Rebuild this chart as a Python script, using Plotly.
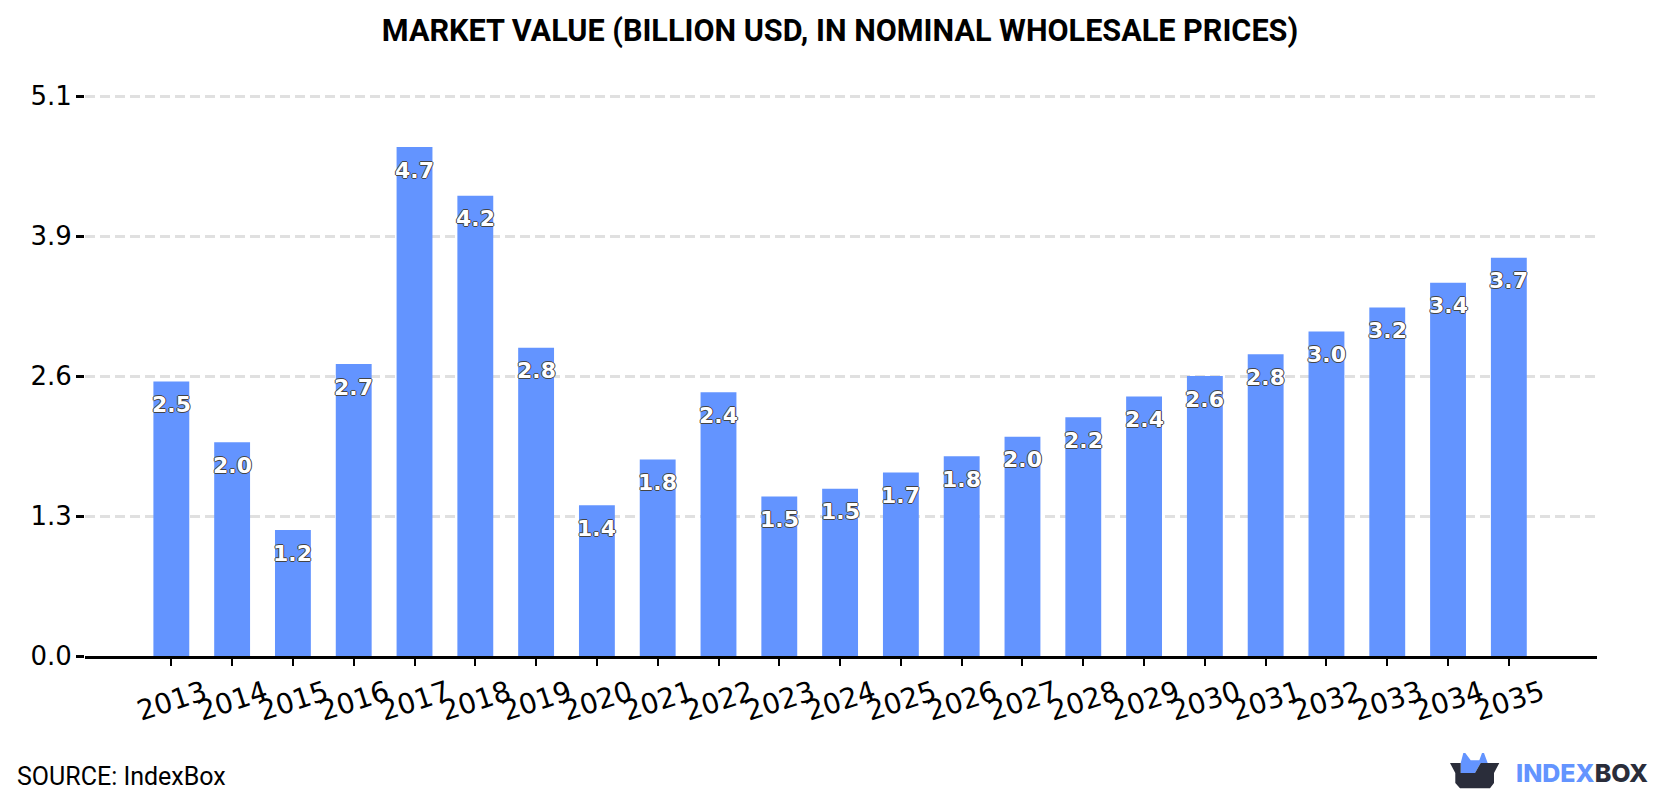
import plotly.graph_objects as go

# Market value series, billion USD
years = [str(y) for y in range(2013, 2036)]
market_value = [2.53, 1.97, 1.16, 2.69, 4.69, 4.24, 2.84, 1.39, 1.81, 2.43, 1.47, 1.54,
                1.69, 1.84, 2.02, 2.20, 2.39, 2.58, 2.78, 2.99, 3.21, 3.44, 3.67]
y_tick_values = [0, 1.29, 2.58, 3.87, 5.16]
y_tick_labels = ["0.0", "1.3", "2.6", "3.9", "5.1"]

WIDTH, HEIGHT = 1680, 800
BAR_BLUE = "#6394FF"
INK = "#2A2D3A"
OUTLINE = "#444"

# The value axis runs a little past its top tick so the top gridline is kept
Y_MAX = 5.19
BASELINE_PX = 656
PX_PER_UNIT = 560 / 5.16


def px(x):
    return x / WIDTH


def py(y):
    return 1 - y / HEIGHT


def logo_path(points):
    """Closed SVG path in paper coordinates from pixel points."""
    return "M" + " L".join(f"{px(x)},{py(y)}" for x, y in points) + " Z"


# Box-shaped brand mark next to the wordmark
mark_blue = [(1460.7, 773), (1460.7, 763), (1462, 758), (1463.3, 753), (1465.3, 753), (1470.7, 760.3),
             (1479.3, 760.3), (1482, 753), (1484, 753), (1487.7, 763), (1480.7, 763), (1475, 773)]
mark_dark = [(1450, 763), (1460.7, 763), (1460.7, 773), (1475, 773), (1480.7, 763), (1499.3, 763),
             (1494, 773), (1494, 783), (1490, 788.3), (1460, 788.3), (1455.3, 783), (1455.3, 773)]

fig = go.Figure(
    go.Bar(x=years, y=market_value, width=0.59, marker=dict(color=BAR_BLUE, line=dict(width=0)))
)

label_shadow = (f"-1px 0 0 {OUTLINE}, 1px 0 0 {OUTLINE}, 0 -1px 0 {OUTLINE}, 0 1px 0 {OUTLINE}")
annotations = [
    dict(x=i, y=value, xref="x", yref="y", text=f"{value:.1f}", showarrow=False,
         yanchor="middle", yshift=-23,
         font=dict(family="DejaVu Sans", size=22, weight="bold", color="white", shadow=label_shadow))
    for i, value in enumerate(market_value)
]
annotations += [
    dict(x=px(15), y=py(776), xref="paper", yref="paper", xanchor="left", yanchor="middle",
         text="SOURCE: IndexBox", showarrow=False,
         font=dict(family="Roboto", size=25, color="black")),
    dict(x=px(1514), y=py(773), xref="paper", yref="paper", xanchor="left", yanchor="middle",
         text=f'<span style="color:{BAR_BLUE}">INDEX</span><span style="color:{INK}">BOX</span>',
         showarrow=False, font=dict(family="Inter", size=25, weight=800)),
]

fig.update_layout(
    width=WIDTH,
    height=HEIGHT,
    autosize=False,
    margin=dict(l=0, r=0, t=0, b=0, autoexpand=False),
    paper_bgcolor="white",
    plot_bgcolor="white",
    showlegend=False,
    title=dict(
        text="<b>MARKET VALUE (BILLION USD, IN NOMINAL WHOLESALE PRICES)</b>",
        x=0.5, xanchor="center", y=py(30), yanchor="middle",
        font=dict(family="Roboto", size=30.6, color="black"),
    ),
    annotations=annotations,
    shapes=[
        dict(type="path", xref="paper", yref="paper", path=logo_path(mark_blue),
             fillcolor=BAR_BLUE, line=dict(width=0)),
        dict(type="path", xref="paper", yref="paper", path=logo_path(mark_dark),
             fillcolor=INK, line=dict(width=0)),
    ],
    xaxis=dict(
        domain=[px(85), px(1597)],
        type="category",
        range=[-1.42, 23.45],
        showgrid=False,
        showline=True,
        linecolor="black",
        linewidth=3,
        ticks="outside",
        ticklen=7,
        tickwidth=2,
        tickcolor="black",
        tickangle=-18,
        ticklabelshift=33,
        tickfont=dict(family="DejaVu Sans", size=28, color="black"),
    ),
    yaxis=dict(
        domain=[py(BASELINE_PX), py(BASELINE_PX - Y_MAX * PX_PER_UNIT)],
        range=[0, Y_MAX],
        tickmode="array",
        tickvals=y_tick_values,
        ticktext=y_tick_labels,
        showgrid=True,
        gridcolor="#E0E0E0",
        gridwidth=2.5,
        griddash="10px,5px",
        zeroline=False,
        showline=False,
        ticks="outside",
        ticklen=8,
        tickwidth=2.5,
        tickcolor="black",
        ticklabelstandoff=-1,
        tickfont=dict(family="DejaVu Sans", size=26, color="black"),
    ),
)

fig.write_html("out.html")
